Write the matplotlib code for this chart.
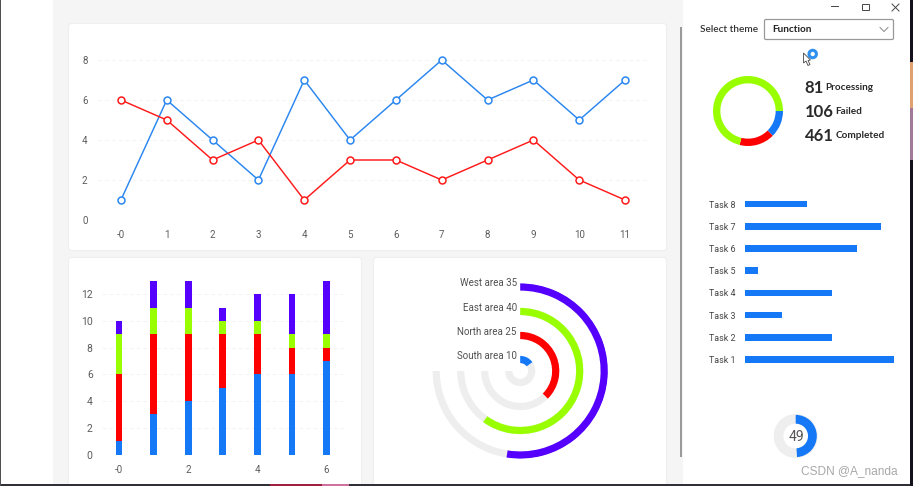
import matplotlib
matplotlib.use('Agg')
import matplotlib.pyplot as plt
from matplotlib.patches import FancyBboxPatch, Rectangle, Polygon, Circle
import numpy as np

plt.rcParams['font.family'] = ['Roboto', 'DejaVu Sans']

W, H = 913, 486

BLUE = '#1578f6'
RED = '#ff0000'
GREEN = '#99ff00'
PURPLE = '#5500ff'
TRACK = '#eeeeee'
TEXT = '#5c5c5c'

# line chart
line_x = list(range(12))
line_labels = ['-0', '1', '2', '3', '4', '5', '6', '7', '8', '9', '10', '11']
line_blue = [1, 6, 4, 2, 7, 4, 6, 8, 6, 7, 5, 7]
line_red = [6, 5, 3, 4, 1, 3, 3, 2, 3, 4, 2, 1]
line_yticks = [0, 2, 4, 6, 8]

# stacked bars
stack_x = list(range(7))
stack_blue = [1, 3, 4, 5, 6, 6, 7]
stack_red = [5, 6, 5, 4, 3, 2, 1]
stack_green = [3, 2, 2, 1, 1, 1, 1]
stack_purple = [1, 2, 2, 1, 2, 3, 4]
stack_yticks = [0, 2, 4, 6, 8, 10, 12]

# radial bars
area_names = ['South area', 'North area', 'East area', 'West area']
area_values = [10, 25, 40, 35]
area_colors = [BLUE, RED, GREEN, PURPLE]
area_max = 50

# status donut
status_names = ['Processing', 'Failed', 'Completed']
status_values = [81, 106, 461]

# tasks
task_names = ['Task 1', 'Task 2', 'Task 3', 'Task 4', 'Task 5', 'Task 6', 'Task 7', 'Task 8']
task_values = [12, 7, 3, 7, 1, 9, 11, 5]

gauge_value = 49


def px_axes(left, top, right, bottom, **kw):
    # axes placed by window pixels
    a = fig.add_axes([left / W, 1 - bottom / H, (right - left) / W, (bottom - top) / H], **kw)
    a.patch.set_alpha(0)
    a.set_zorder(5)
    return a


def card(x0, y0, x1, y1):
    bg.add_patch(FancyBboxPatch((x0, y0), x1 - x0, y1 - y0, boxstyle='round,pad=0,rounding_size=3',
                                fc='white', ec='#efefef', lw=0.8, zorder=2))


def style_axes(a):
    for s in a.spines.values():
        s.set_visible(False)
    a.tick_params(length=0, labelsize=7, labelcolor=TEXT)
    a.grid(axis='y', color='#f3f3f3', lw=0.7, ls=(0, (4, 3)))
    a.set_axisbelow(True)


fig = plt.figure(figsize=(W / 100, H / 100), dpi=100, facecolor='white')

bg = fig.add_axes([0, 0, 1, 1])
bg.set_xlim(0, W)
bg.set_ylim(H, 0)
bg.axis('off')

# window background
bg.add_patch(Rectangle((53, 0), 630, H, fc='#f5f5f5', ec='none', zorder=1))
bg.add_patch(Rectangle((680, 27), 2, 430, fc='#9a9a9a', ec='none', zorder=3))
card(68.5, 23.5, 666.5, 250.5)
card(68.5, 257.5, 361.5, 490)
card(373.5, 257.5, 666.5, 490)

# desktop showing behind the window
bg.add_patch(Rectangle((0, 484), W, 2, fc='#303036', ec='none', zorder=4))
bg.add_patch(Rectangle((270, 484), 52, 2, fc='#a02040', ec='none', zorder=4))
bg.add_patch(Rectangle((322, 484), 27, 2, fc='#d070a0', ec='none', zorder=4))
bg.add_patch(Rectangle((910, 0), 3, H, fc='#14101c', ec='none', zorder=4))
bg.add_patch(Rectangle((910, 62), 3, 46, fc='#e0a070', ec='none', zorder=4))
bg.add_patch(Rectangle((910, 108), 3, 52, fc='#a07898', ec='none', zorder=4))
bg.add_patch(Rectangle((0, 0), 1, H, fc='#505050', ec='none', zorder=4))

# line chart
ax = px_axes(98, 60, 648, 220)
style_axes(ax)
ax.plot(line_x, line_blue, color='#2a86f0', lw=1.05, marker='o', ms=5, mfc='white', mew=1.1, clip_on=False)
ax.plot(line_x, line_red, color='#ff1a1a', lw=1.05, marker='o', ms=5, mfc='white', mew=1.1, clip_on=False)
ax.set_xlim(-0.5, 11.5)
ax.set_ylim(0, 8)
ax.set_xticks(line_x, line_labels)
ax.set_yticks(line_yticks)
ax.tick_params(axis='x', pad=7.5)
ax.tick_params(axis='y', pad=7.5)

# stacked bar chart
ax2 = px_axes(101.7, 281, 343.9, 454.5)
style_axes(ax2)
bottom = np.zeros(len(stack_x))
for vals, col in [(stack_blue, BLUE), (stack_red, RED), (stack_green, GREEN), (stack_purple, PURPLE)]:
    ax2.bar(stack_x, vals, width=0.2, bottom=bottom, color=col)
    bottom += np.array(vals)
ax2.set_xlim(-0.5, 6.5)
ax2.set_ylim(0, 13)
ax2.set_xticks([0, 2, 4, 6], ['-0', '2', '4', '6'])
ax2.set_yticks(stack_yticks)
ax2.tick_params(axis='x', pad=7.5)
ax2.tick_params(axis='y', pad=6.5, labelsize=7.5)

# radial bars
cx, cy, rmax = 520.2, 371, 88
ax3 = px_axes(cx - rmax, cy - rmax, cx + rmax, cy + rmax, projection='polar')
ax3.set_theta_zero_location('N')
ax3.set_theta_direction(-1)
ax3.set_rlim(0, rmax)
ax3.axis('off')
radii = [11.5, 35.5, 59.5, 84]
for r, val, col in zip(radii, area_values, area_colors):
    ax3.bar(0, 7.2, width=np.deg2rad(270), bottom=r - 3.6, align='edge', color=TRACK)
    ax3.bar(0, 7.2, width=np.deg2rad(val / area_max * 270), bottom=r - 3.6, align='edge', color=col)
    name = area_names[radii.index(r)]
    bg.text(cx - 3.5, cy - r - 4, '%s %d' % (name, val), ha='right', va='center', fontsize=7, color='#505050', zorder=6)

# top right controls
bg.text(699.5, 30, 'Select theme', ha='left', va='center', fontsize=7.2, color='#333333', fontweight='semibold', family='Lato')
bg.add_patch(FancyBboxPatch((764.5, 19.5), 129, 20, boxstyle='round,pad=0,rounding_size=1.5', fc='white', ec='#999999', lw=0.9, zorder=3))
bg.text(772, 29.5, 'Function', ha='left', va='center', fontsize=7.2, color='#222222', fontweight='bold', family='Lato', zorder=4)
bg.plot([880, 884, 888], [27.5, 31.5, 27.5], color='#888888', lw=0.7, zorder=4)
bg.plot([831, 838], [6, 6], color='#444444', lw=0.7)
bg.add_patch(Rectangle((861.5, 4), 7, 6.5, fc='none', ec='#444444', lw=0.7))
bg.plot([892, 899], [4, 11], color='#444444', lw=0.7)
bg.plot([892, 899], [11, 4], color='#444444', lw=0.7)

# busy cursor
bg.add_patch(Polygon([(803.5, 53), (803.5, 63), (806, 61), (808, 65.5), (810, 64.5), (808, 60.5), (810.5, 60)],
                     fc='white', ec='#444444', lw=0.6, zorder=6))
bg.add_patch(Circle((812.7, 54), 3.7, fc='white', ec='#2e8fee', lw=2.2, zorder=5))

# status donut
ax4 = px_axes(713, 76, 783, 146)
ax4.pie(status_values, colors=[BLUE, RED, GREEN], startangle=0, counterclock=False, radius=1,
        wedgeprops={'width': 0.21})
ax4.set_xlim(-1, 1)
ax4.set_ylim(-1, 1)
status_num_x = [804.5, 804.5, 804.5]
status_y = [88, 112, 136]
status_lab_x = [825, 835.5, 835.5]
for name, val, nx, ny, lx in zip(status_names, status_values, status_num_x, status_y, status_lab_x):
    bg.text(nx, ny, str(val), ha='left', va='center', fontsize=12, color='#2a2a2a', fontweight='bold', family='Lato')
    bg.text(lx, ny - 1, name, ha='left', va='center', fontsize=7.2, color='#2a2a2a', fontweight='bold', family='Lato')

# task bars
ax5 = px_axes(745.3, 193, 897, 370.5)
ax5.barh(range(len(task_names)), task_values, height=0.3, color=BLUE)
ax5.set_xlim(0, 152 / 12.4)
ax5.set_ylim(-0.5, 7.5)
ax5.set_yticks(range(len(task_names)), task_names)
ax5.set_xticks([])
for s in ax5.spines.values():
    s.set_visible(False)
ax5.tick_params(length=0, labelsize=6.4, labelcolor='#444444', pad=7)

# gauge
ax6 = px_axes(773.7, 414, 817.7, 458)
ax6.pie([1], colors=[TRACK], radius=1, wedgeprops={'width': 0.44})
ax6.pie([gauge_value, 100 - gauge_value], colors=[BLUE, 'none'], startangle=90, counterclock=False,
        radius=0.96, wedgeprops={'width': 0.4})
ax6.set_xlim(-1, 1)
ax6.set_ylim(-1, 1)
ax6.text(0.04, -0.03, str(gauge_value), ha='center', va='center', fontsize=10, color='#555555')

bg.text(801, 471, 'CSDN @A_nanda', ha='left', va='center', fontsize=8.6, color='#a8a8a8', family='Liberation Sans', zorder=7)

fig.savefig('out.png', dpi=100)
